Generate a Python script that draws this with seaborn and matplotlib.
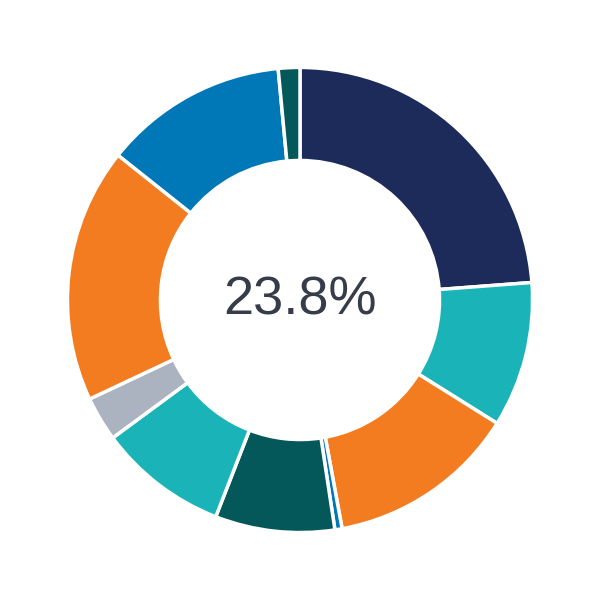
import matplotlib
matplotlib.use("Agg")
import matplotlib.pyplot as plt
import seaborn as sns

# slice shares in percent, clockwise from 12 o'clock
shares = [23.8, 10.1, 13.2, 0.5, 8.3, 9.0, 3.1, 17.7, 12.8, 1.5]
slice_colors = ["#1c2b5a", "#1ab4b8", "#f47c20", "#0077b6", "#04585a",
                "#1ab4b8", "#aab3bf", "#f47c20", "#0077b6", "#04585a"]
center_label = "23.8%"

sns.set_theme(style="white")
plt.rcParams["font.family"] = ["Liberation Sans", "DejaVu Sans"]

fig, ax = plt.subplots(figsize=(6, 6), dpi=100)
ax.pie(shares, colors=slice_colors, startangle=90, counterclock=False,
       radius=1.0,
       wedgeprops=dict(width=0.4, edgecolor="white", linewidth=2.5))
ax.text(0, 0, center_label, ha="center", va="center",
        fontsize=39, color="#363c4a")
ax.set_aspect("equal")
ax.set_xlim(-1.29, 1.29)
ax.set_ylim(-1.29, 1.29)
ax.axis("off")
fig.subplots_adjust(left=0, right=1, top=1, bottom=0)
plt.savefig("out.png", dpi=100)
